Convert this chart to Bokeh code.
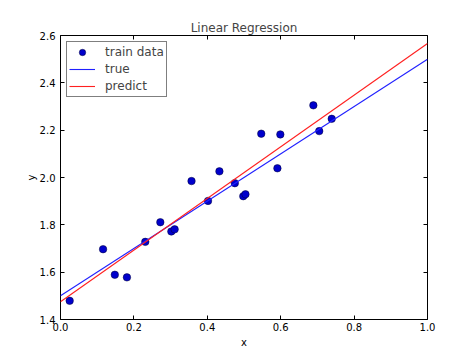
from bokeh.plotting import figure
from bokeh.models import LinearAxis, Range1d, Legend, LegendItem, PrintfTickFormatter
from bokeh.embed import file_html
from bokeh.resources import INLINE

# data
train_x = [0.025, 0.116, 0.148, 0.181, 0.231, 0.272, 0.302, 0.311, 0.357, 0.402,
           0.433, 0.475, 0.498, 0.504, 0.547, 0.591, 0.599, 0.689, 0.705, 0.739]
train_y = [1.479, 1.697, 1.589, 1.578, 1.728, 1.811, 1.772, 1.781, 1.985, 1.901,
           2.026, 1.976, 1.921, 1.929, 2.185, 2.039, 2.182, 2.305, 2.196, 2.248]
line_x = [0.0, 1.0]
true_y = [1.5, 2.5]
predict_y = [1.475, 2.566]

x_ticks = [0.0, 0.2, 0.4, 0.6, 0.8, 1.0]
y_ticks = [1.4, 1.6, 1.8, 2.0, 2.2, 2.4, 2.6]

FONT = "DejaVu Sans"

p = figure(width=474, height=355, x_range=Range1d(0, 1), y_range=Range1d(1.4, 2.6),
           output_backend="svg", toolbar_location=None,
           min_border_left=60, min_border_top=35, min_border_right=47, min_border_bottom=36,
           x_axis_label="x", y_axis_label="y")
p.title.text = "Linear Regression"
p.title.align = "center"
p.title.text_font = FONT
p.title.text_font_size = "12px"
p.title.text_font_style = "normal"
p.title.standoff = 2

p.xgrid.visible = False
p.ygrid.visible = False
p.outline_line_color = "black"
p.outline_line_width = 1
p.background_fill_color = "white"
p.border_fill_color = "white"

for ax in (p.xaxis[0], p.yaxis[0]):
    ax.axis_line_color = None
    ax.major_tick_in = 4
    ax.major_tick_out = 0
    ax.minor_tick_line_color = None
    ax.major_tick_line_color = "black"
    ax.major_label_text_font = FONT
    ax.major_label_text_font_size = "10px"
    ax.major_label_text_color = "black"
    ax.axis_label_text_font = FONT
    ax.axis_label_text_font_size = "10px"
    ax.axis_label_text_font_style = "normal"
    ax.axis_label_text_color = "black"
    ax.formatter = PrintfTickFormatter(format="%.1f")
p.xaxis[0].ticker = x_ticks
p.yaxis[0].ticker = y_ticks
p.xaxis[0].major_label_standoff = 3
p.xaxis[0].axis_label_standoff = 3
p.yaxis[0].major_label_standoff = 5
p.yaxis[0].axis_label_standoff = 0

top = LinearAxis(ticker=x_ticks, axis_line_color=None,
                 major_label_overrides={t: "" for t in x_ticks},
                 major_tick_in=4, major_tick_out=0, minor_tick_line_color=None,
                 major_label_standoff=0)
right = LinearAxis(ticker=y_ticks, axis_line_color=None,
                   major_label_overrides={t: "" for t in y_ticks},
                   major_tick_in=4, major_tick_out=0, minor_tick_line_color=None,
                   major_label_standoff=0)
p.add_layout(top, "above")
p.add_layout(right, "right")

r_pts = p.scatter(train_x, train_y, size=7.5, fill_color="#0000cc", line_color="#000033",
                  line_width=0.5)
r_true = p.line(line_x, true_y, line_color="#2020ff", line_width=1.1)
r_pred = p.line(line_x, predict_y, line_color="#ff2020", line_width=1.1)

legend = Legend(items=[LegendItem(label="train data", renderers=[r_pts]),
                       LegendItem(label="true", renderers=[r_true]),
                       LegendItem(label="predict", renderers=[r_pred])],
                location="top_left")
legend.margin = 6
legend.padding = 2
legend.spacing = 1
legend.glyph_height = 16
legend.label_height = 16
legend.glyph_width = 26
legend.label_standoff = 10
legend.label_text_font = FONT
legend.label_text_font_size = "12px"
legend.border_line_color = "black"
legend.border_line_width = 1
legend.background_fill_alpha = 1
p.add_layout(legend)

open("out.html", "w").write(file_html(p, INLINE))
